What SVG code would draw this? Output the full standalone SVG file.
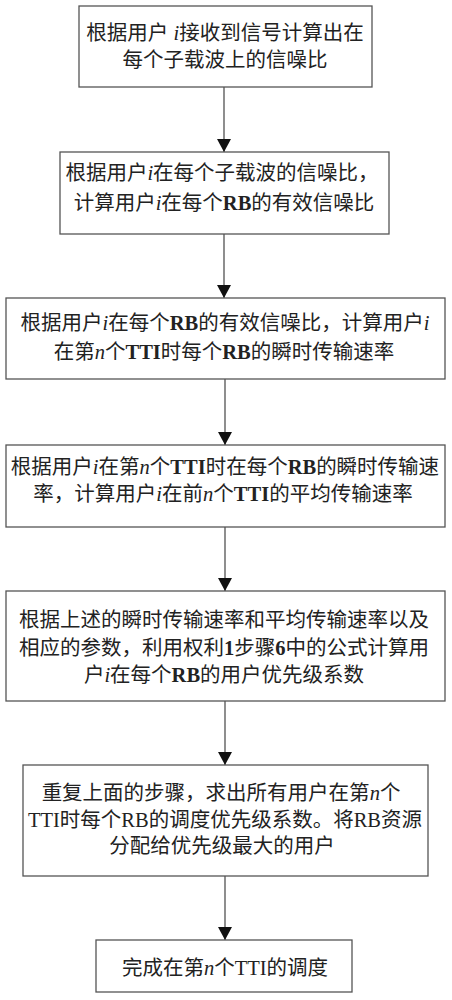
<svg xmlns="http://www.w3.org/2000/svg" width="452" height="1000" viewBox="0 0 452 1000">
<style>
.box{fill:#fff;stroke:#555;stroke-width:1.3}
.t{font-family:"Liberation Serif","Noto Sans CJK SC",serif;font-size:20.5px;fill:#222;text-anchor:middle}
.it{font-style:italic}
.b{font-weight:bold}
.c{stroke:#444;stroke-width:1.2;fill:none;marker-end:url(#ah)}
</style>
<defs>
<marker id="ah" markerUnits="userSpaceOnUse" markerWidth="14" markerHeight="14" refX="13" refY="7" orient="auto">
<path d="M0,0 L13,7 L0,14 z" fill="#111"/>
</marker>
</defs>
<rect width="452" height="1000" fill="#fff"/>
<g id="connectors">
<line class="c" x1="224" y1="87" x2="224" y2="152"/>
<line class="c" x1="224" y1="234" x2="224" y2="298"/>
<line class="c" x1="225" y1="379" x2="225" y2="445"/>
<line class="c" x1="225" y1="527" x2="225" y2="591"/>
<line class="c" x1="225" y1="701" x2="225" y2="765"/>
<line class="c" x1="225" y1="876" x2="225" y2="940"/>
</g>
<g id="n1">
<rect class="box" x="79" y="6" width="293" height="81"/>
<text class="t" x="225" y="40">根据用户 <tspan class="it">i</tspan>接收到信号计算出在</text>
<text class="t" x="225" y="67">每个子载波上的信噪比</text>
</g>
<g id="n2">
<rect class="box" x="60" y="152" width="329" height="82"/>
<text class="t" x="222" y="180">根据用户<tspan class="it">i</tspan>在每个子载波的信噪比，</text>
<text class="t" x="224" y="210">计算用户<tspan class="it">i</tspan>在每个<tspan class="b">RB</tspan>的有效信噪比</text>
</g>
<g id="n3">
<rect class="box" x="6" y="298" width="439" height="81"/>
<text class="t" x="225" y="330">根据用户<tspan class="it">i</tspan>在每个<tspan class="b">RB</tspan>的有效信噪比，计算用户<tspan class="it">i</tspan></text>
<text class="t" x="224" y="359">在第<tspan class="it">n</tspan>个<tspan class="b">TTI</tspan>时每个<tspan class="b">RB</tspan>的瞬时传输速率</text>
</g>
<g id="n4">
<rect class="box" x="6" y="445" width="439" height="82"/>
<text class="t" x="225" y="474">根据用户<tspan class="it">i</tspan>在第<tspan class="it">n</tspan>个<tspan class="b">TTI</tspan>时在每个<tspan class="b">RB</tspan>的瞬时传输速</text>
<text class="t" x="223" y="501">率，计算用户<tspan class="it">i</tspan>在前<tspan class="it">n</tspan>个<tspan class="b">TTI</tspan>的平均传输速率</text>
</g>
<g id="n5">
<rect class="box" x="6" y="591" width="439" height="110"/>
<text class="t" x="224" y="627">根据上述的瞬时传输速率和平均传输速率以及</text>
<text class="t" x="224" y="655">相应的参数，利用权利<tspan class="b">1</tspan>步骤<tspan class="b">6</tspan>中的公式计算用</text>
<text class="t" x="224" y="682">户<tspan class="it">i</tspan>在每个<tspan class="b">RB</tspan>的用户优先级系数</text>
</g>
<g id="n6">
<rect class="box" x="23" y="765" width="405" height="111"/>
<text class="t" x="221" y="800">重复上面的步骤，求出所有用户在第<tspan class="it">n</tspan>个</text>
<text class="t" x="225" y="827">TTI时每个RB的调度优先级系数。将RB资源</text>
<text class="t" x="222" y="853">分配给优先级最大的用户</text>
</g>
<g id="n7">
<rect class="box" x="96" y="940" width="256" height="52"/>
<text class="t" x="225" y="975">完成在第<tspan class="it">n</tspan>个TTI的调度</text>
</g>
</svg>
